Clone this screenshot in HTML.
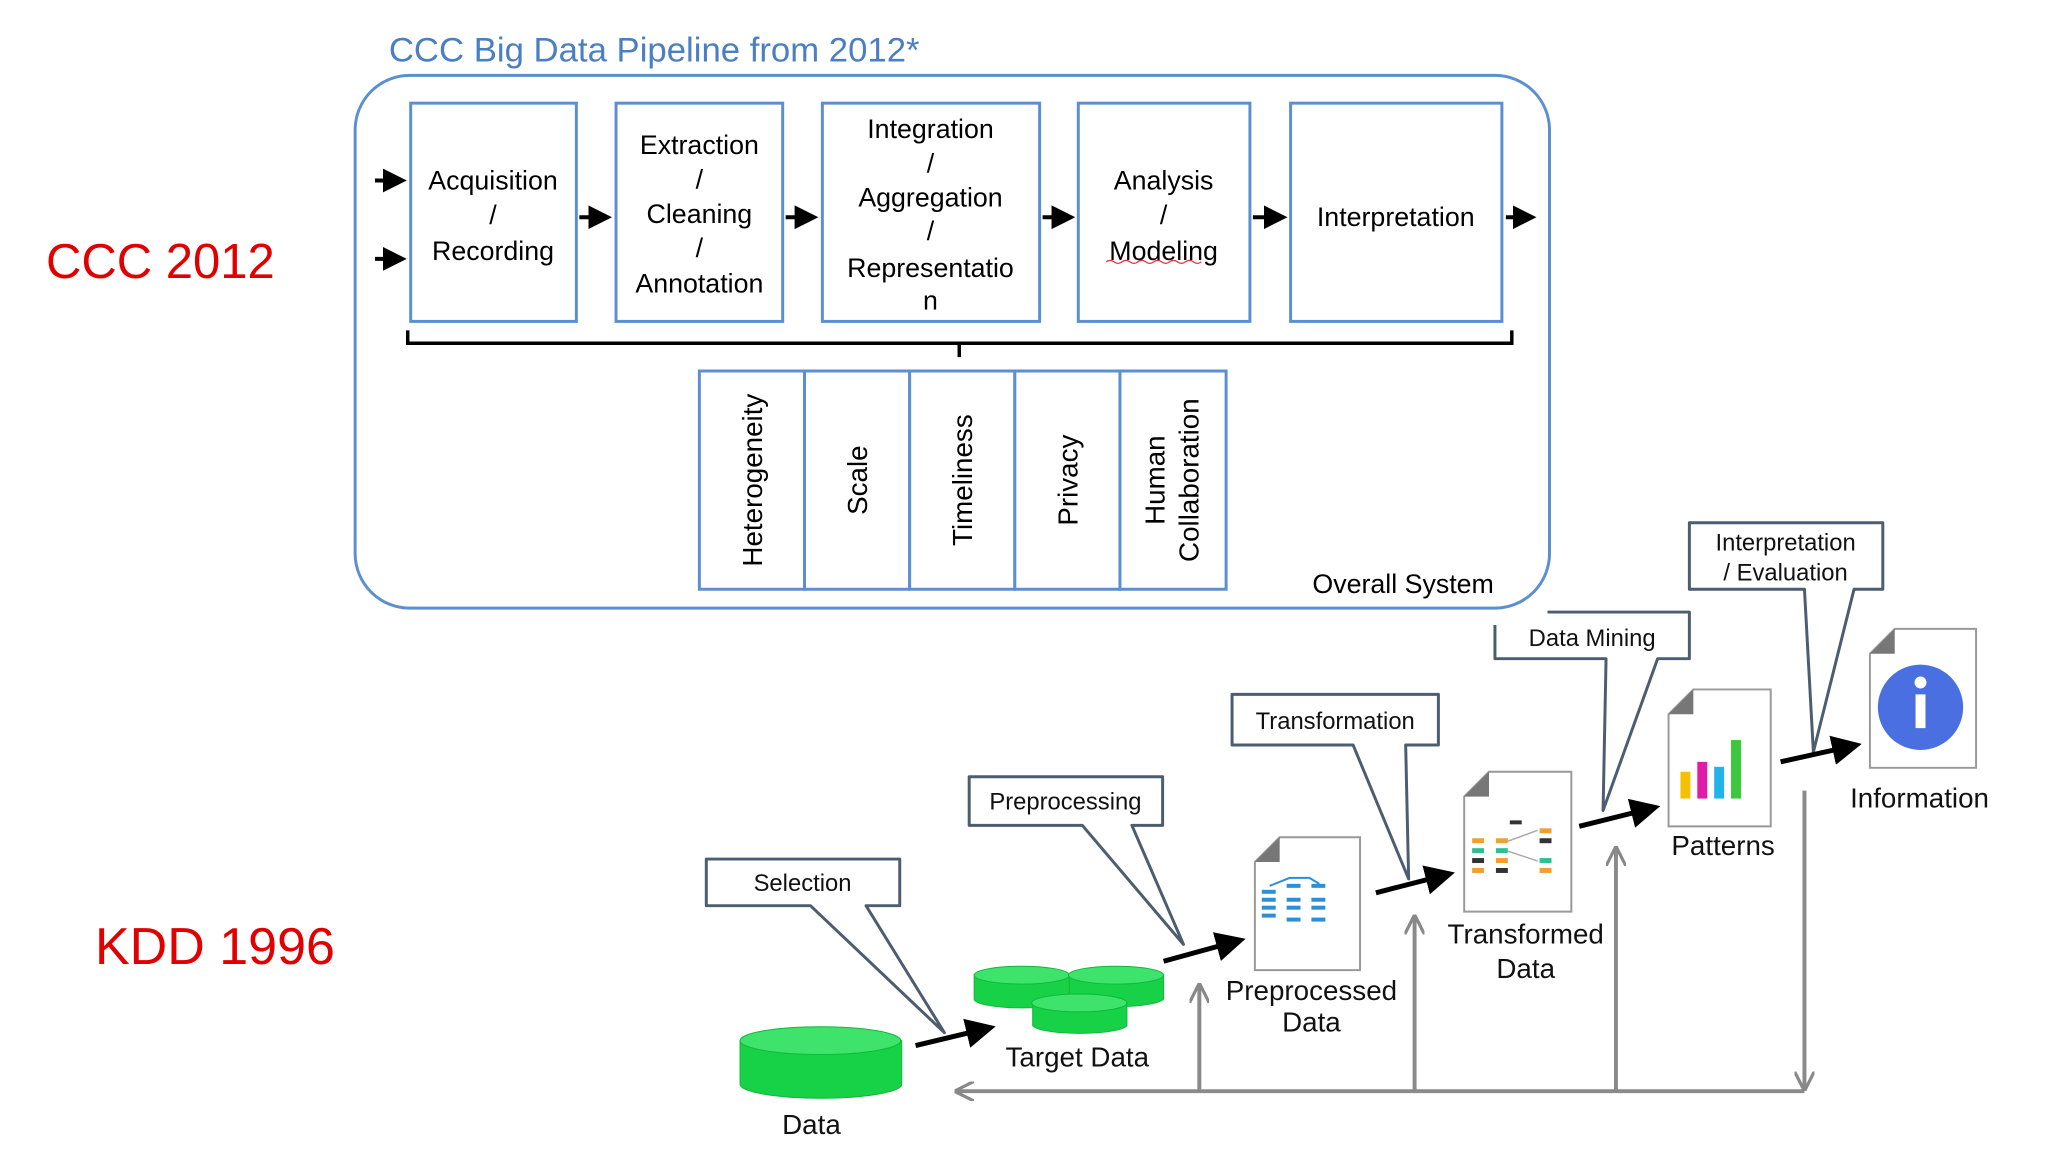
<!DOCTYPE html>
<html><head><meta charset="utf-8"><style>
html,body{margin:0;padding:0;background:#fff;}
svg{display:block;font-family:"Liberation Sans",Arial,sans-serif;}
</style></head><body>
<svg width="2048" height="1152" viewBox="0 0 2048 1152" xmlns="http://www.w3.org/2000/svg">
<defs>
<marker id="ah" markerWidth="6" markerHeight="6" refX="4" refY="3" orient="auto" markerUnits="strokeWidth"><path d="M0,0 L6,3 L0,6 Z" fill="#000"/></marker>
<marker id="gh" markerWidth="5" markerHeight="5" refX="4.5" refY="2.5" orient="auto" markerUnits="strokeWidth"><path d="M0,0 L5,2.5 L0,5" fill="none" stroke="#888" stroke-width="0.8"/></marker>
</defs>
<text x="46" y="278" font-size="49" fill="#e00000">CCC 2012</text>
<text x="95" y="964" font-size="52" fill="#e00000">KDD 1996</text>
<g transform="scale(0.992)">
<text x="392" y="62" font-size="35" fill="#4a7fc1">CCC Big Data Pipeline from 2012*</text>
<rect x="358" y="76" width="1204" height="537" rx="55" fill="none" stroke="#5b8fd0" stroke-width="3"/>

<g fill="#fff" stroke="#5b8fd0" stroke-width="3">
<rect x="414" y="104" width="167" height="220"/>
<rect x="621" y="104" width="168" height="220"/>
<rect x="829" y="104" width="219" height="220"/>
<rect x="1087" y="104" width="173" height="220"/>
<rect x="1301" y="104" width="213" height="220"/>
</g>
<g font-size="27" fill="#000" text-anchor="middle">
<text x="497" y="191">Acquisition</text><text x="497" y="226">/</text><text x="497" y="262">Recording</text>
<text x="705" y="155">Extraction</text><text x="705" y="190">/</text><text x="705" y="225">Cleaning</text><text x="705" y="259">/</text><text x="705" y="295">Annotation</text>
<text x="938" y="139">Integration</text><text x="938" y="174">/</text><text x="938" y="208">Aggregation</text><text x="938" y="242">/</text><text x="938" y="279">Representatio</text><text x="938" y="312">n</text>
<text x="1173" y="191">Analysis</text><text x="1173" y="226">/</text><text x="1173" y="262">Modeling</text>
<text x="1407" y="228">Interpretation</text>
</g>
<path d="M1115,264 q4,-3 8,0 t8,0 t8,0 t8,0 t8,0 t8,0 t8,0 t8,0 t8,0 t8,0 t8,0 t8,0" fill="none" stroke="#d33" stroke-width="1.2"/>
<g stroke="#000" stroke-width="4" marker-end="url(#ah)">
<line x1="378" y1="182" x2="402" y2="182"/>
<line x1="378" y1="261" x2="402" y2="261"/>
<line x1="584" y1="219" x2="609" y2="219"/>
<line x1="792" y1="219" x2="817" y2="219"/>
<line x1="1051" y1="219" x2="1076" y2="219"/>
<line x1="1263" y1="219" x2="1290" y2="219"/>
<line x1="1518" y1="219" x2="1541" y2="219"/>
</g>
<path d="M411,333 V346 H1524 V333 M967,346 V360" fill="none" stroke="#000" stroke-width="3.5"/>
<g fill="#fff" stroke="#5b8fd0" stroke-width="3">
<rect x="705" y="374" width="106" height="220"/>
<rect x="811" y="374" width="106" height="220"/>
<rect x="917" y="374" width="106" height="220"/>
<rect x="1023" y="374" width="106" height="220"/>
<rect x="1129" y="374" width="107" height="220"/>
</g>
<g font-size="28" fill="#000" text-anchor="middle">
<text transform="translate(768,484) rotate(-90)">Heterogeneity</text>
<text transform="translate(874,484) rotate(-90)">Scale</text>
<text transform="translate(980,484) rotate(-90)">Timeliness</text>
<text transform="translate(1086,484) rotate(-90)">Privacy</text>
<text transform="translate(1174,484) rotate(-90)">Human</text>
<text transform="translate(1208,484) rotate(-90)">Collaboration</text>
</g>
<text x="1323" y="598" font-size="27" fill="#000">Overall System</text>

<g stroke="#8a8a8a" stroke-width="4" fill="none">
<line x1="1819" y1="1100" x2="964" y2="1100" marker-end="url(#gh)"/>
<line x1="1819" y1="797" x2="1819" y2="1098" marker-end="url(#gh)"/>
<line x1="1209" y1="1100" x2="1209" y2="993" marker-end="url(#gh)"/>
<line x1="1426" y1="1100" x2="1426" y2="924" marker-end="url(#gh)"/>
<line x1="1629" y1="1100" x2="1629" y2="855" marker-end="url(#gh)"/>
</g>

<g fill="#fff" stroke="#4d5d70" stroke-width="3" stroke-linejoin="round">
<path d="M712,866 H907 V913 H873 L952,1041 L817,913 H712 Z"/>
<path d="M977,783 H1172 V832 H1141 L1193,952 L1091,832 H977 Z"/>
<path d="M1242,700 H1450 V751 H1417 L1420,886 L1364,751 H1242 Z"/>
<path d="M1507,630 V664 H1619 L1616,817 L1671,664 H1703 V617 H1560"/>
<path d="M1703,527 H1898 V594 H1869 L1828,758 L1819,594 H1703 Z"/>
</g>
<g font-size="24" fill="#111" text-anchor="middle">
<text x="809" y="898">Selection</text>
<text x="1074" y="816">Preprocessing</text>
<text x="1346" y="735">Transformation</text>
<text x="1605" y="651">Data Mining</text>
<text x="1800" y="555">Interpretation</text>
<text x="1800" y="585">/ Evaluation</text>
</g>

<g fill="#17d146" stroke="#12b83a" stroke-width="1">
<path d="M746,1049 V1093 A81,14 0 0 0 909,1093 V1049 Z"/>
<ellipse cx="827" cy="1049" rx="81" ry="14" fill="#3de36a"/>
<path d="M982,983 V1007 A48,9 0 0 0 1078,1007 V983 Z"/>
<ellipse cx="1030" cy="983" rx="48" ry="9" fill="#3de36a"/>
<path d="M1078,983 V1007 A48,9 0 0 0 1173,1007 V983 Z"/>
<ellipse cx="1125" cy="983" rx="48" ry="9" fill="#3de36a"/>
<path d="M1041,1011 V1034 A48,9 0 0 0 1136,1034 V1011 Z"/>
<ellipse cx="1088" cy="1011" rx="48" ry="9" fill="#3de36a"/>
</g>

<g fill="#fff" stroke="#999" stroke-width="2">
<path d="M1290,844 H1371 V978 H1265 V869 Z"/>
<path d="M1501,778 H1584 V919 H1476 V803 Z"/>
<path d="M1707,695 H1785 V833 H1682 V720 Z"/>
<path d="M1910,634 H1992 V774 H1885 V659 Z"/>
</g>
<g fill="#777">
<path d="M1290,844 V869 H1265 Z"/><path d="M1501,778 V803 H1476 Z"/>
<path d="M1707,695 V720 H1682 Z"/><path d="M1910,634 V659 H1885 Z"/>
</g>
<g fill="#2a8fd8">
<rect x="1272" y="897" width="14" height="4"/><rect x="1272" y="905" width="14" height="4"/><rect x="1272" y="913" width="14" height="4"/><rect x="1272" y="921" width="14" height="4"/>
<rect x="1297" y="891" width="14" height="4"/><rect x="1297" y="905" width="14" height="4"/><rect x="1297" y="913" width="14" height="4"/><rect x="1297" y="925" width="14" height="4"/>
<rect x="1322" y="891" width="14" height="4"/><rect x="1322" y="905" width="14" height="4"/><rect x="1322" y="913" width="14" height="4"/><rect x="1322" y="925" width="14" height="4"/>
<path d="M1280,893 L1300,885 L1320,885 L1330,891" fill="none" stroke="#2a8fd8" stroke-width="2"/>
</g>
<g>
<rect x="1522" y="827" width="12" height="4" fill="#333"/>
<rect x="1484" y="845" width="12" height="5" fill="#f0a030"/><rect x="1484" y="855" width="12" height="5" fill="#2ec090"/><rect x="1484" y="865" width="12" height="5" fill="#333"/><rect x="1484" y="875" width="12" height="5" fill="#f0a030"/>
<rect x="1508" y="845" width="12" height="5" fill="#f0a030"/><rect x="1508" y="855" width="12" height="5" fill="#2ec090"/><rect x="1508" y="865" width="12" height="5" fill="#f0a030"/><rect x="1508" y="875" width="12" height="5" fill="#333"/>
<rect x="1552" y="835" width="12" height="5" fill="#f0a030"/><rect x="1552" y="845" width="12" height="5" fill="#333"/><rect x="1552" y="865" width="12" height="5" fill="#2ec090"/><rect x="1552" y="875" width="12" height="5" fill="#f0a030"/>
<path d="M1520,848 L1550,837 M1520,858 L1550,868" stroke="#aaa" stroke-width="1.5"/>
</g>
<rect x="1694" y="778" width="10" height="27" fill="#f2c200"/>
<rect x="1711" y="768" width="10" height="37" fill="#e21aa8"/>
<rect x="1728" y="773" width="10" height="32" fill="#22b4e8"/>
<rect x="1745" y="746" width="10" height="59" fill="#3cc83c"/>
<circle cx="1936" cy="713" r="43" fill="#4a6fe0"/>
<circle cx="1936" cy="688" r="6" fill="#fff"/>
<rect x="1931" y="700" width="10" height="34" fill="#fff"/>

<g stroke="#000" stroke-width="5" marker-end="url(#ah)">
<line x1="923" y1="1054" x2="994" y2="1037"/>
<line x1="1173" y1="969" x2="1246" y2="949"/>
<line x1="1387" y1="900" x2="1457" y2="882"/>
<line x1="1592" y1="833" x2="1664" y2="815"/>
<line x1="1795" y1="768" x2="1867" y2="752"/>
</g>

<g font-size="28" fill="#111" text-anchor="middle">
<text x="818" y="1143">Data</text>
<text x="1086" y="1075">Target Data</text>
<text x="1322" y="1008">Preprocessed</text>
<text x="1322" y="1040">Data</text>
<text x="1538" y="951">Transformed</text>
<text x="1538" y="986">Data</text>
<text x="1737" y="862">Patterns</text>
<text x="1935" y="814">Information</text>
</g>
</g>
</svg>
</body></html>
